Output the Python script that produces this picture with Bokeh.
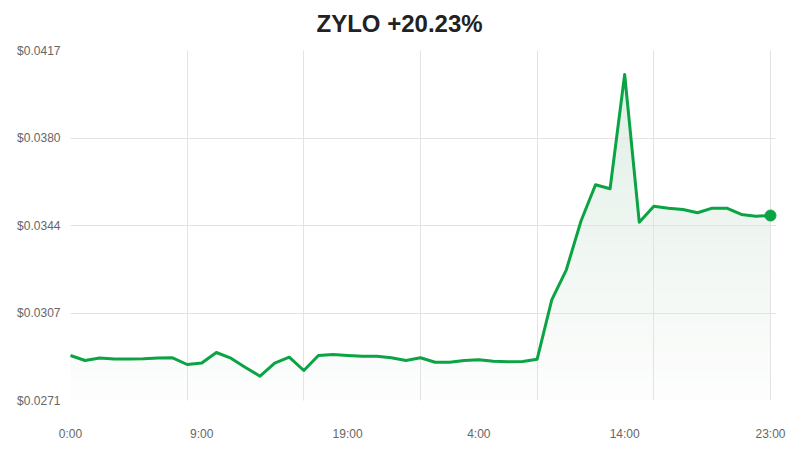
import numpy as np
from bokeh.plotting import figure
from bokeh.models import FixedTicker, CustomJSTickFormatter, Range1d, Title
from bokeh.embed import file_html
from bokeh.resources import INLINE

# ---- data ----
title_text = "ZYLO +20.23%"
prices = [
    0.028977, 0.028769, 0.028873, 0.028831, 0.028831, 0.028839, 0.028873, 0.028881,
    0.028602, 0.028664, 0.029102, 0.028864, 0.028477, 0.028113, 0.028656, 0.028906,
    0.028351, 0.028977, 0.029019, 0.028977, 0.028948, 0.028948, 0.028881, 0.028769,
    0.028881, 0.028698, 0.028698, 0.028769, 0.028798, 0.028739, 0.028714, 0.028727,
    0.028823, 0.031301, 0.032552, 0.034579, 0.036098, 0.035931, 0.040699, 0.034538,
    0.035205, 0.035122, 0.035067, 0.034930, 0.035122, 0.035122, 0.034859, 0.034788,
    0.034817,
]
x_tick_index = [0, 9, 19, 28, 38, 48]
x_tick_labels = ["0:00", "9:00", "19:00", "4:00", "14:00", "23:00"]
y_low, y_high = 0.0271, 0.0417
y_tick_labels = ["$0.0271", "$0.0307", "$0.0344", "$0.0380", "$0.0417"]

xs = np.arange(len(prices), dtype=float)
ys = np.array(prices)
last = len(prices) - 1

LINE = "#0aa444"
GRID = "#e3e3e3"
FONT = "Liberation Sans"
GRAD_TOP = (222, 237, 227)
GRAD_BOTTOM = (253, 253, 253)


def part_above(x, y, lv):
    """Outline of max(line, lv), with the exact crossing points of the line with lv."""
    ox, oy = [x[0]], [max(y[0], lv)]
    for i in range(len(x) - 1):
        a, b = y[i] - lv, y[i + 1] - lv
        if a * b < 0:
            xc = x[i] + (x[i + 1] - x[i]) * a / (a - b)
            ox.append(xc)
            oy.append(lv)
        ox.append(x[i + 1])
        oy.append(max(y[i + 1], lv))
    return ox, oy


# frame extends 6px past the last point so the end dot is not clipped
px_per_step = 700.0 / last
extra = 6.0 / px_per_step

p = figure(width=800, height=450, toolbar_location=None, title=None,
           output_backend="svg",
           x_range=Range1d(0, last + extra), y_range=Range1d(y_low, y_high),
           min_border_left=70, min_border_right=24, min_border_top=50, min_border_bottom=50)
p.background_fill_color = "white"
p.border_fill_color = "white"
p.outline_line_color = None

# spacer (nearest the frame), then the title above it
p.add_layout(Title(text=" ", text_font_size="1px", standoff=11), "above")
p.add_layout(Title(text=title_text, align="left", offset=246, text_font=FONT,
                   text_font_size="24px", text_font_style="bold",
                   text_color="#222222", standoff=0), "above")

# vertical gradient fill under the line: opaque bands drawn bottom-up
n_bands = 36
levels = np.linspace(y_low, y_high, n_bands + 1)[:-1]
for lv in levels:
    t = (lv - y_low) / (y_high - y_low)
    rgb = [round(b + t * (a - b)) for a, b in zip(GRAD_TOP, GRAD_BOTTOM)]
    color = "#%02x%02x%02x" % tuple(rgb)
    bx, by = part_above(xs, ys, lv)
    p.varea(x=bx, y1=lv, y2=by, fill_color=color, fill_alpha=1.0)

line_r = p.line(xs, ys, line_color=LINE, line_width=3, line_join="round")
dot_r = p.scatter([xs[-1]], [ys[-1]], size=11, fill_color=LINE, line_color=LINE)
line_r.level = "overlay"
dot_r.level = "overlay"

# axes
p.xaxis.ticker = FixedTicker(ticks=x_tick_index)
p.xaxis.major_label_overrides = {i: l for i, l in zip(x_tick_index, x_tick_labels)}
p.xgrid.ticker = FixedTicker(ticks=list(range(0, len(prices), 8)))
y_ticks = list(np.linspace(y_low, y_high, len(y_tick_labels)))
p.yaxis.ticker = FixedTicker(ticks=y_ticks)
p.yaxis.formatter = CustomJSTickFormatter(args=dict(labels=y_tick_labels),
                                          code="return labels[index];")
p.ygrid.ticker = FixedTicker(ticks=y_ticks)

for ax in (p.xaxis[0], p.yaxis[0]):
    ax.axis_line_color = None
    ax.major_tick_line_color = None
    ax.minor_tick_line_color = None
    ax.major_tick_out = 0
    ax.major_tick_in = 0
    ax.major_label_text_font = FONT
    ax.major_label_text_font_size = "12px"
    ax.major_label_text_color = "#666666"
p.xaxis.major_label_standoff = 26
p.yaxis.major_label_standoff = 10

for g in (p.xgrid[0], p.ygrid[0]):
    g.grid_line_color = GRID
    g.grid_line_width = 1
    g.level = "annotation"

open("out.html", "w").write(file_html(p, INLINE))
